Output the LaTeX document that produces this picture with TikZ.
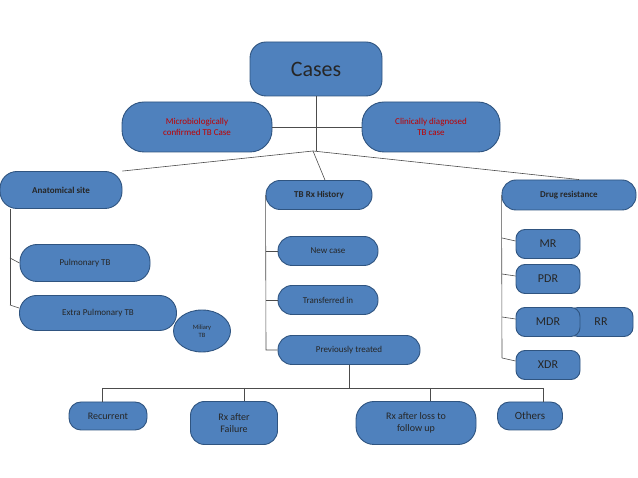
\documentclass[tikz,border=0pt]{standalone}
\usepackage{fontspec}
\setmainfont{Carlito}
\usetikzlibrary{shapes.geometric}
\definecolor{bfill}{HTML}{4F81BD}
\definecolor{bdraw}{HTML}{2F5480}
\definecolor{redt}{HTML}{C00000}
\tikzset{
  box/.style={draw=bdraw,fill=bfill,line width=0.9pt,rounded corners=#1,inner sep=0pt,align=center,text=black!85,font=\fontsize{9}{11}\selectfont},
  box/.default=13pt,
  ln/.style={draw=black!70,line width=0.6pt}
}
\begin{document}
\begin{tikzpicture}[x=1pt,y=-1pt]
\useasboundingbox (0,0) rectangle (638,478);
\node[box=16pt,minimum width=132pt,minimum height=54pt,font=\fontsize{22}{24}\selectfont] (cases) at (316,69) {Cases};
\node[box=22pt,minimum width=150pt,minimum height=50pt,text=redt] (micro) at (197,127) {Microbiologically\\confirmed TB Case};
\node[box=22pt,minimum width=138pt,minimum height=50pt,text=redt] (clin) at (431,127) {Clinically diagnosed\\TB case};
\coordinate (j) at (313,151);
\node[box=17pt,minimum width=122pt,minimum height=37pt,font=\bfseries\fontsize{9}{11}\selectfont] (anat) at (61,190) {Anatomical site};
\node[box=14pt,minimum width=106pt,minimum height=29pt,font=\bfseries\fontsize{9}{11}\selectfont] (tbrx) at (319,195) {TB Rx History};
\node[box=14pt,minimum width=134pt,minimum height=30pt,font=\bfseries\fontsize{9}{11}\selectfont] (drug) at (569,195) {Drug resistance};
\node[box=17pt,minimum width=130pt,minimum height=37pt] (pulm) at (85,263) {Pulmonary TB};
\node[box=17pt,minimum width=157pt,minimum height=35pt] (extra) at (98,313) {Extra Pulmonary TB};
\node[ellipse,draw=bdraw,fill=bfill,line width=0.9pt,minimum width=57pt,minimum height=42pt,inner sep=0pt,align=center,font=\fontsize{6.5}{8}\selectfont,text=black!85] (mil) at (202,331) {Miliary\\TB};
\node[box=14pt,minimum width=100pt,minimum height=29pt] (new) at (328,251) {New case};
\node[box=14pt,minimum width=100pt,minimum height=29pt] (trans) at (328,300) {Transferred in};
\node[box=14pt,minimum width=142pt,minimum height=29pt] (prev) at (349,350) {Previously treated};
\node[box=9pt,minimum width=64pt,minimum height=29pt,font=\fontsize{12}{14}\selectfont] (mr) at (548,244) {MR};
\node[box=9pt,minimum width=64pt,minimum height=29pt,font=\fontsize{12}{14}\selectfont] (pdr) at (548,279) {PDR};
\node[box=9pt,minimum width=64pt,minimum height=29pt,font=\fontsize{12}{14}\selectfont] (rr) at (601,322) {RR};
\node[box=9pt,minimum width=64pt,minimum height=29pt,font=\fontsize{12}{14}\selectfont] (mdr) at (548,322) {MDR};
\node[box=9pt,minimum width=64pt,minimum height=29pt,font=\fontsize{12}{14}\selectfont] (xdr) at (548,365) {XDR};
\node[box=12pt,minimum width=78pt,minimum height=28pt,font=\fontsize{10}{12}\selectfont] (rec) at (108,416) {Recurrent};
\node[box=14pt,minimum width=87pt,minimum height=43pt,font=\fontsize{10}{12}\selectfont] (fail) at (234,423) {Rx after\\Failure};
\node[box=18pt,minimum width=120pt,minimum height=43pt,font=\fontsize{10}{12}\selectfont] (loss) at (416,423) {Rx after loss to\\follow up};
\node[box=12pt,minimum width=65pt,minimum height=28pt,font=\fontsize{11}{13}\selectfont] (oth) at (530,416) {Others};
% connectors
\draw[ln] (cases.south) -- (cases.south |- j);
\draw[ln] (micro.east) -- (clin.west);
\draw[ln] (j) -- (anat.north east) ++(0,0);
\draw[ln] (j) -- ([xshift=6pt]tbrx.north);
\draw[ln] (j) -- ([xshift=10pt]drug.north);
\coordinate (av) at (10,209);
\draw[ln] (av) -- (10,305);
\draw[ln] (10,258) -- (pulm.west);
\draw[ln] (10,305) -- ([yshift=5pt]extra.west);
\draw[ln] (tbrx.west) -- (266,350) -- (prev.west);
\draw[ln] (266,251) -- (new.west);
\draw[ln] (266,300) -- (trans.west);
\draw[ln] (drug.west) -- (502,358);
\draw[ln] (502,238) -- ([yshift=3pt]mr.west);
\draw[ln] (502,274) -- ([yshift=3pt]pdr.west);
\draw[ln] (502,317) -- ([yshift=3pt]mdr.west);
\draw[ln] (502,358) -- ([yshift=4pt]xdr.west);
\coordinate (pb) at (349,388);
\draw[ln] (prev.south) -- (pb);
\draw[ln] (102,388) -- (543,388);
\draw[ln] (102,388) -- (rec.north -| 102,0);
\draw[ln] (244,388) -- (fail.north -| 244,0);
\draw[ln] (430,388) -- (loss.north -| 430,0);
\draw[ln] (543,388) -- (oth.north -| 543,0);
\end{tikzpicture}
\end{document}
